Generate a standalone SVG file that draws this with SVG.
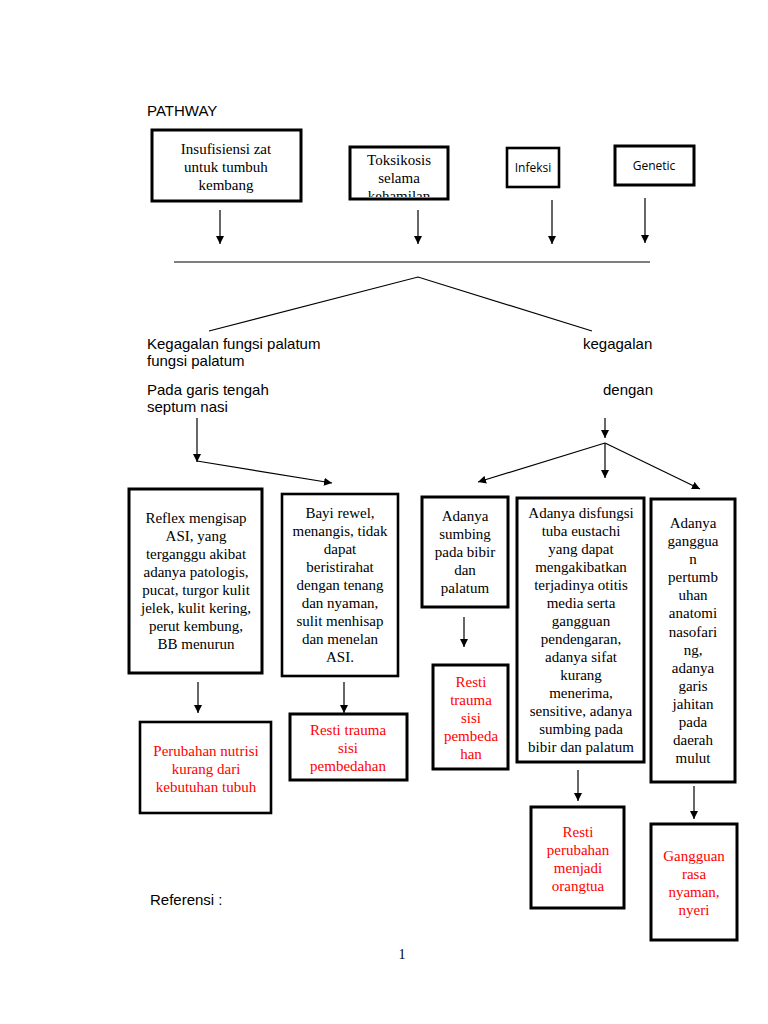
<svg xmlns="http://www.w3.org/2000/svg" width="768" height="1024" viewBox="0 0 768 1024">
<defs>
<marker id="ah" viewBox="0 0 10 10" refX="10" refY="5" markerWidth="8" markerHeight="8" markerUnits="userSpaceOnUse" orient="auto">
<path d="M0,0 L10,5 L0,10 z" fill="#000"/>
</marker>
<clipPath id="clipTok"><rect x="352" y="149" width="94" height="48"/></clipPath>
</defs>
<style>
.box{fill:#fff;stroke:#000;stroke-width:2.6}
.thick{stroke-width:3}
.t{font-family:"Liberation Serif","Times New Roman",serif;font-size:15px;text-anchor:middle;fill:#000}
.r{fill:#ff0000}
.s{font-family:"Liberation Sans",Arial,sans-serif;font-size:15px;fill:#000}
.c{font-family:"Open Sans","Liberation Sans",sans-serif;font-size:12px;text-anchor:middle;fill:#000}
.ln{stroke:#000;stroke-width:1.2;fill:none}
.ar{stroke:#000;stroke-width:1.2;fill:none;marker-end:url(#ah)}
</style>
<rect width="768" height="1024" fill="#fff"/>
<text class="s" x="147" y="116">PATHWAY</text>

<g id="n-insufisiensi">
<rect class="box thick" x="152" y="130" width="149" height="71"/>
<text class="t" x="226" y="154">Insufisiensi zat</text>
<text class="t" x="226" y="172">untuk tumbuh</text>
<text class="t" x="226" y="190">kembang</text>
</g>
<g id="n-toksikosis">
<rect class="box thick" x="350" y="147" width="98" height="52"/>
<g clip-path="url(#clipTok)">
<text class="t" x="399" y="165">Toksikosis</text>
<text class="t" x="399" y="183">selama</text>
<text class="t" x="399" y="201">kehamilan</text>
</g>
</g>
<g id="n-infeksi">
<rect class="box" x="507" y="148" width="52" height="39"/>
<text class="c" x="533" y="172">Infeksi</text>
</g>
<g id="n-genetic">
<rect class="box thick" x="615" y="146" width="79" height="39"/>
<text class="c" x="654" y="170">Genetic</text>
</g>

<g id="labels">
<text class="s" x="147" y="349">Kegagalan fungsi palatum</text>
<text class="s" x="147" y="366">fungsi palatum</text>
<text class="s" x="583" y="349">kegagalan</text>
<text class="s" x="147" y="395">Pada garis tengah</text>
<text class="s" x="147" y="412">septum nasi</text>
<text class="s" x="603" y="395">dengan</text>
</g>

<g id="n-reflex">
<rect class="box thick" x="129" y="489" width="133" height="184"/>
<text class="t" x="196" y="523">Reflex mengisap</text>
<text class="t" x="196" y="541">ASI, yang</text>
<text class="t" x="196" y="559">terganggu akibat</text>
<text class="t" x="196" y="577">adanya patologis,</text>
<text class="t" x="196" y="595">pucat, turgor kulit</text>
<text class="t" x="196" y="613">jelek, kulit kering,</text>
<text class="t" x="196" y="631">perut kembung,</text>
<text class="t" x="196" y="649">BB menurun</text>
</g>
<g id="n-bayi">
<rect class="box" x="282" y="494" width="116" height="182"/>
<text class="t" x="340" y="518">Bayi rewel,</text>
<text class="t" x="340" y="536">menangis, tidak</text>
<text class="t" x="340" y="554">dapat</text>
<text class="t" x="340" y="572">beristirahat</text>
<text class="t" x="340" y="590">dengan tenang</text>
<text class="t" x="340" y="608">dan nyaman,</text>
<text class="t" x="340" y="626">sulit menhisap</text>
<text class="t" x="340" y="644">dan menelan</text>
<text class="t" x="340" y="662">ASI.</text>
</g>
<g id="n-sumbing">
<rect class="box thick" x="422" y="497" width="86" height="110"/>
<text class="t" x="465" y="521">Adanya</text>
<text class="t" x="465" y="539">sumbing</text>
<text class="t" x="465" y="557">pada bibir</text>
<text class="t" x="465" y="575">dan</text>
<text class="t" x="465" y="593">palatum</text>
</g>
<g id="n-disfungsi">
<rect class="box thick" x="517" y="498" width="127" height="264"/>
<text class="t" x="581" y="518">Adanya disfungsi</text>
<text class="t" x="581" y="536">tuba eustachi</text>
<text class="t" x="581" y="554">yang dapat</text>
<text class="t" x="581" y="572">mengakibatkan</text>
<text class="t" x="581" y="590">terjadinya otitis</text>
<text class="t" x="581" y="608">media serta</text>
<text class="t" x="581" y="626">gangguan</text>
<text class="t" x="581" y="644">pendengaran,</text>
<text class="t" x="581" y="662">adanya sifat</text>
<text class="t" x="581" y="680">kurang</text>
<text class="t" x="581" y="698">menerima,</text>
<text class="t" x="581" y="716">sensitive, adanya</text>
<text class="t" x="581" y="734">sumbing pada</text>
<text class="t" x="581" y="752">bibir dan palatum</text>
</g>
<g id="n-ganggua">
<rect class="box thick" x="651" y="499" width="84" height="283"/>
<text class="t" x="693" y="528">Adanya</text>
<text class="t" x="693" y="546">ganggua</text>
<text class="t" x="693" y="564">n</text>
<text class="t" x="693" y="582">pertumb</text>
<text class="t" x="693" y="600">uhan</text>
<text class="t" x="693" y="618">anatomi</text>
<text class="t" x="693" y="637">nasofari</text>
<text class="t" x="693" y="655">ng,</text>
<text class="t" x="693" y="673">adanya</text>
<text class="t" x="693" y="691">garis</text>
<text class="t" x="693" y="709">jahitan</text>
<text class="t" x="693" y="727">pada</text>
<text class="t" x="693" y="745">daerah</text>
<text class="t" x="693" y="763">mulut</text>
</g>

<g id="n-perubahan-nutrisi">
<rect class="box" x="140" y="722" width="131" height="91"/>
<text class="t r" x="206" y="756">Perubahan nutrisi</text>
<text class="t r" x="206" y="774">kurang dari</text>
<text class="t r" x="206" y="792">kebutuhan tubuh</text>
</g>
<g id="n-resti-trauma-1">
<rect class="box thick" x="290" y="714" width="117" height="66"/>
<text class="t r" x="348" y="735">Resti trauma</text>
<text class="t r" x="348" y="753">sisi</text>
<text class="t r" x="348" y="771">pembedahan</text>
</g>
<g id="n-resti-trauma-2">
<rect class="box thick" x="433" y="665" width="75" height="104"/>
<text class="t r" x="471" y="687">Resti</text>
<text class="t r" x="471" y="705">trauma</text>
<text class="t r" x="471" y="723">sisi</text>
<text class="t r" x="471" y="741">pembeda</text>
<text class="t r" x="471" y="759">han</text>
</g>
<g id="n-resti-perubahan">
<rect class="box thick" x="531" y="807" width="93" height="101"/>
<text class="t r" x="578" y="837">Resti</text>
<text class="t r" x="578" y="855">perubahan</text>
<text class="t r" x="578" y="873">menjadi</text>
<text class="t r" x="578" y="891">orangtua</text>
</g>
<g id="n-gangguan-rasa">
<rect class="box thick" x="651" y="824" width="86" height="116"/>
<text class="t r" x="694" y="861">Gangguan</text>
<text class="t r" x="694" y="879">rasa</text>
<text class="t r" x="694" y="897">nyaman,</text>
<text class="t r" x="694" y="915">nyeri</text>
</g>

<g id="connectors">
<line class="ar" x1="220" y1="210" x2="220" y2="244"/>
<line class="ar" x1="418" y1="210" x2="418" y2="244"/>
<line class="ar" x1="552" y1="200" x2="552" y2="244"/>
<line class="ar" x1="645" y1="198" x2="645" y2="243"/>
<line class="ln" x1="174" y1="262" x2="650" y2="262"/>
<polyline class="ln" points="209,331 418,277 592,331"/>
<line class="ar" x1="197" y1="418" x2="197" y2="462"/>
<line class="ar" x1="197" y1="461" x2="332" y2="483"/>
<line class="ar" x1="605" y1="418" x2="605" y2="438"/>
<line class="ar" x1="605" y1="443" x2="478" y2="482"/>
<line class="ar" x1="605" y1="443" x2="605" y2="478"/>
<line class="ar" x1="605" y1="443" x2="700" y2="489"/>
<line class="ar" x1="464" y1="617" x2="464" y2="647"/>
<line class="ar" x1="198" y1="682" x2="198" y2="713"/>
<line class="ar" x1="344" y1="682" x2="344" y2="713"/>
<line class="ar" x1="578" y1="770" x2="578" y2="801"/>
<line class="ar" x1="694" y1="786" x2="694" y2="819"/>
</g>

<text class="s" x="150" y="905">Referensi :</text>
<text class="t" x="402" y="959" style="font-size:14px">1</text>
</svg>
